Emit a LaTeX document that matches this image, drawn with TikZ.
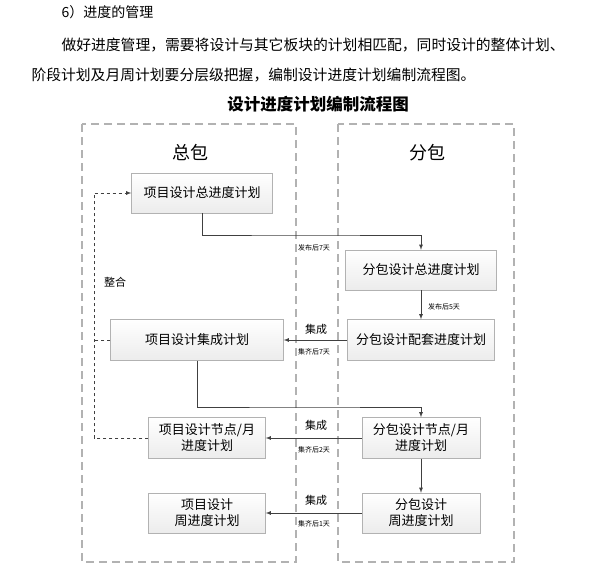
\documentclass[tikz,border=0pt]{standalone}
\usepackage{fontspec}
\setmainfont{Noto Sans CJK SC}
\usetikzlibrary{positioning, arrows}

\tikzset{
  plan/.style={draw=gray!60, top color=white, bottom color=gray!15, align=center, font=\fontsize{13}{16}\selectfont, inner sep=0pt},
  lab/.style={font=\fontsize{7}{8}\selectfont, fill=white, inner sep=1pt},
  jc/.style={font=\fontsize{11}{12}\selectfont},
  flow/.style={->, >=latex, draw=black!75, thick},
  zone/.style={draw=gray!60, line width=1.5pt, dash pattern=on 8pt off 5pt},
}

\begin{document}
\begin{tikzpicture}[x=1pt,y=-1pt]
\useasboundingbox (0,0) rectangle (603,571);

% texte en haut
\node[anchor=west, font=\fontsize{14}{16}\selectfont] (t1) at (58,12) {6）进度的管理};
\node[anchor=west, font=\fontsize{14.8}{16}\selectfont] (t2) at (58,45) {做好进度管理，需要将设计与其它板块的计划相匹配，同时设计的整体计划、};
\node[anchor=west, font=\fontsize{14.8}{16}\selectfont] (t3) at (28,75) {阶段计划及月周计划要分层级把握，编制设计进度计划编制流程图。};
\node[font=\bfseries\fontsize{16.5}{18}\selectfont] (title) at (318,104) {设计进度计划编制流程图};

% les zones
\draw[zone] (82,124) rectangle (296,562);
\draw[zone] (338,124) rectangle (514,562);
\node[font=\fontsize{18}{20}\selectfont] (zb) at (190,153) {总包};
\node[font=\fontsize{18}{20}\selectfont] (fb) at (427,153) {分包};

% les plans
\node[plan, minimum width=141, minimum height=40] (A) at (202,193) {项目设计总进度计划};
\node[plan, minimum width=151, minimum height=40] (B) at (421,270) {分包设计总进度计划};
\node[plan, minimum width=173, minimum height=41] (C) at (197,340) {项目设计集成计划};
\node[plan, minimum width=147, minimum height=41] (D) at (421,340) {分包设计配套进度计划};
\node[plan, minimum width=117, minimum height=41] (E) at (207,438) {项目设计节点/月\\进度计划};
\node[plan, minimum width=118, minimum height=41] (F) at (421,438) {分包设计节点/月\\进度计划};
\node[plan, minimum width=117, minimum height=40] (G) at (207,513) {项目设计\\周进度计划};
\node[plan, minimum width=118, minimum height=40] (H) at (421,513) {分包设计\\周进度计划};

% les fleches
\draw[flow] (A.south) |- (300,235) -| (B.north);
\node[lab] (l1) at (314,248) {发布后7天};
\draw[flow] (B) -- (D);
\node[lab] (l2) at (444,307) {发布后5天};
\draw[flow] (D) -- (C);
\node[jc] (j1) at (316,329) {集成};
\node[lab] (l3) at (314,352) {集齐后7天};
\draw[flow] (C.south) |- (300,407) -| (F.north);
\draw[flow] (F) -- (E);
\node[jc] (j2) at (316,425) {集成};
\node[lab] (l4) at (314,450) {集齐后2天};
\draw[flow] (F) -- (H);
\draw[flow] (H) -- (G);
\node[jc] (j3) at (316,500) {集成};
\node[lab] (l5) at (314,524) {集齐后1天};

% integration
\coordinate (k) at (94,438);
\draw[dashed, draw=black!75, thick] (C.west) -- (94,340);
\draw[flow, dashed] (E.west) -- (k) |- (A.west);
\node[jc] (zh) at (115,282) {整合};
\end{tikzpicture}
\end{document}
